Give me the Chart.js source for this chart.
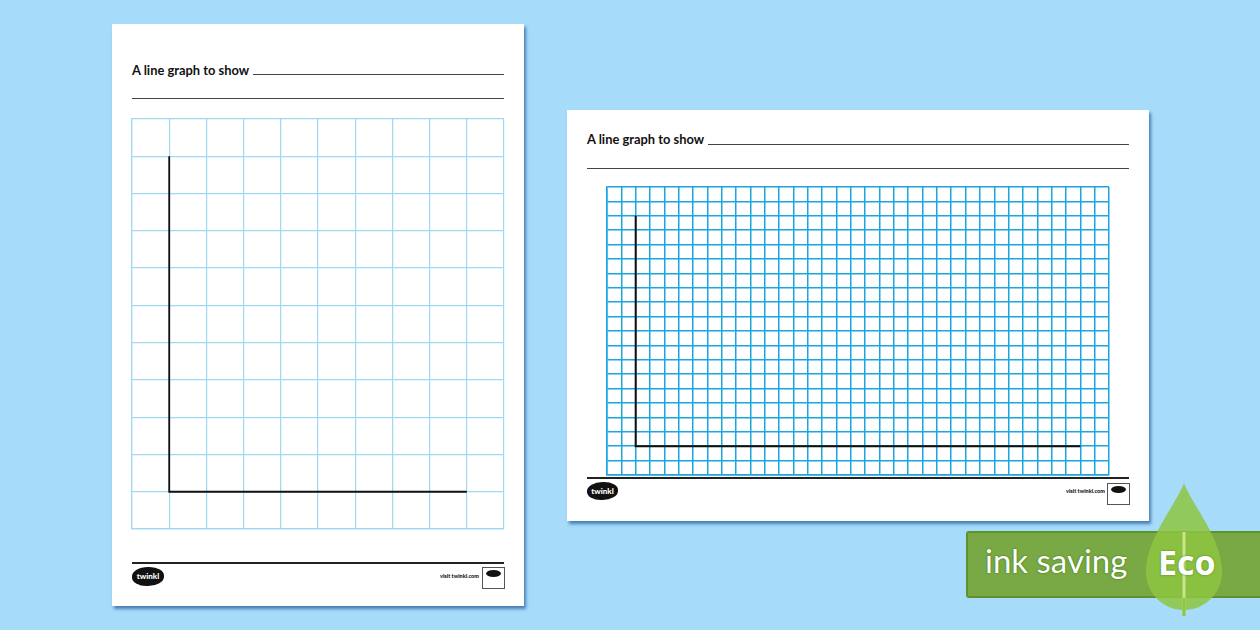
<!DOCTYPE html>
<html>
<head>
<meta charset="utf-8">
<script src="https://cdn.jsdelivr.net/npm/chart.js@4.4.1/dist/chart.umd.min.js"></script>
<style>
  html, body { margin: 0; padding: 0; }
  body { width: 1260px; height: 630px; background: #a6dbfa; position: relative; overflow: hidden; font-family: Lato, "Open Sans", sans-serif; }
  .page { position: absolute; background: #fff; box-shadow: 2px 3px 3px rgba(30, 90, 150, 0.7); }
  .title { position: absolute; font-weight: 700; font-size: 12.9px; color: #111; white-space: nowrap; }
  .rule { position: absolute; height: 0; border-top: 1.5px solid #444; }
  .foot { position: absolute; height: 0; border-top: 2px solid #222; }
  .logo { position: absolute; background: #111; color: #fff; font-weight: 900; font-size: 8px; text-align: center; border-radius: 50% 45% 50% 45%; }
  .visit { position: absolute; font-size: 5.5px; font-weight: 900; color: #111; white-space: nowrap; }
  .badge { position: absolute; border: 1px solid #555; background: #fff; }
  .badge div { position: absolute; left: 3px; top: 2px; right: 3px; height: 7px; background: #111; border-radius: 50%; }
  canvas { position: absolute; }
  .eco { position: absolute; left: 966px; top: 531px; width: 300px; height: 63px; background: #79a944; border: 2px solid #5f922c; border-radius: 3px; }
  .ink { position: absolute; left: 985px; top: 540px; font-size: 33px; color: #fff; white-space: nowrap; text-shadow: 0 0 2px #3f7d12, 0 0 1px #3f7d12; font-family: Lato, sans-serif; }
  .ecoword { position: absolute; left: 1158px; top: 539px; font-size: 34px; font-weight: 700; color: #fff; text-shadow: 0 0 2px #3f7d12; font-family: "Open Sans", Lato, sans-serif; }
</style>
</head>
<body>

<div class="page" id="pageA" style="left:112px; top:24px; width:412px; height:582px;">
  <div class="title" style="left:20px; top:38px;">A line graph to show</div>
  <div class="rule" style="left:141px; top:50px; width:251px;"></div>
  <div class="rule" style="left:20px; top:74px; width:372px;"></div>
  <canvas id="chartA" width="374" height="412" style="left:19px; top:94px;"></canvas>
  <div class="foot" style="left:20px; top:538px; width:372px;"></div>
  <div class="logo" style="left:20px; top:543px; width:32px; height:19px; line-height:19px;">twinkl</div>
  <div class="visit" style="left:328px; top:549px;">visit twinkl.com</div>
  <div class="badge" style="left:370px; top:543px; width:21px; height:20px;"><div></div></div>
</div>

<div class="page" id="pageB" style="left:567px; top:110px; width:582px; height:411px;">
  <div class="title" style="left:20px; top:21px;">A line graph to show</div>
  <div class="rule" style="left:141px; top:34px; width:421px;"></div>
  <div class="rule" style="left:20px; top:58px; width:542px;"></div>
  <canvas id="chartB" width="504" height="290" style="left:39px; top:76px;"></canvas>
  <div class="foot" style="left:20px; top:367px; width:542px;"></div>
  <div class="logo" style="left:20px; top:372px; width:31px; height:18px; line-height:18px;">twinkl</div>
  <div class="visit" style="left:499px; top:378px;">visit twinkl.com</div>
  <div class="badge" style="left:540px; top:373px; width:21px; height:20px;"><div></div></div>
</div>

<div class="eco"></div>
<svg style="position:absolute; left:1140px; top:480px;" width="90" height="140">
  <path d="M44 3 C 52 25, 82 58, 82 92 C 82 114, 64 130, 44 130 C 24 130, 6 114, 6 92 C 6 58, 36 25, 44 3 Z" fill="#8ec63f" fill-opacity="0.85"/>
  <rect x="42.5" y="52" width="3" height="84" fill="#c8e48e"/>
  <rect x="42.5" y="118" width="3" height="18" fill="#8ec63f"/>
</svg>
<div class="ink">ink saving</div>
<div class="ecoword">Eco</div>

<script>
// grid sizes (squares across / down) for each sheet
const gridA = { cols: 10, rows: 11 };
const gridB = { cols: 35, rows: 20 };

// the blank L-shaped axes, in grid squares from bottom-left
const axisAX = [1, 1, 9];
const axisAY = [10, 1, 1];
const axisBX = [2, 2, 33];
const axisBY = [18, 2, 2];

function makeSheet(id, grid, xs, ys, lineColor, gridWidth, axisWidth) {
  const points = xs.map((x, i) => ({ x: x, y: ys[i] }));
  const scaleOpts = (max) => ({
    type: 'linear',
    min: 0,
    max: max,
    ticks: { display: false, stepSize: 1 },
    grid: { color: lineColor, lineWidth: gridWidth, drawTicks: false },
    border: { color: lineColor, width: gridWidth },
  });

  return new Chart(document.getElementById(id).getContext('2d'), {
    type: 'scatter',
    data: {
      datasets: [{
        data: points,
        showLine: true,
        borderColor: '#111',
        borderWidth: axisWidth,
        pointRadius: 0,
        tension: 0,
        fill: false,
      }],
    },
    options: {
      responsive: false,
      animation: false,
      layout: { padding: 1 },
      plugins: { legend: { display: false }, tooltip: { enabled: false } },
      scales: {
        x: scaleOpts(grid.cols),
        y: scaleOpts(grid.rows),
      },
    },
  });
}

makeSheet('chartA', gridA, axisAX, axisAY, '#9fd8f3', 1.2, 1.8);
makeSheet('chartB', gridB, axisBX, axisBY, '#1aa6e0', 1.5, 2);
</script>
</body>
</html>
